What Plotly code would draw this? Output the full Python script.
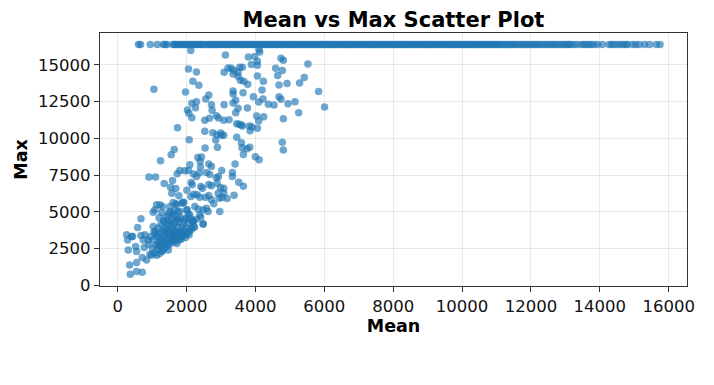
import plotly.graph_objects as go

TITLE = "Mean vs Max Scatter Plot"
X_LABEL = "Mean"
Y_LABEL = "Max"
CAP_VALUE = 16383

capped_mean = [607,665,945,1148,1322,1380,1438,1610,1640,1690,1745,1790,1850,1885,1940,1995,2030,2090,2135,2170,2225,2280,2310,2375,2420,2465,2510,2597,2640,2690,2725,2790,2830,2885,2930,2985,3020,3080,3125,3170,3235,3270,3325,3380,3420,3475,3520,3580,3615,3660,3725,3770,3810,3875,3920,3960,4025,4060,4120,4175,4210,4270,4315,4360,4425,4470,4510,4570,4620,4655,4720,4765,4810,4860,4925,4960,5020,5060,5115,5170,5210,5275,5320,5360,5420,5480,5515,5580,5625,5670,5730,5775,5815,5880,5920,5975,6030,6070,6130,6175,6220,6280,6320,6370,6430,6470,6520,6580,6625,6660,6730,6770,6825,6880,6920,6985,7030,7075,7130,7170,7225,7280,7320,7385,7430,7470,7525,7570,7630,7680,7720,7790,7830,7870,7935,7980,8025,8085,8125,8180,8240,8285,8330,8380,8430,8490,8535,8580,8640,8680,8730,8790,8830,8885,8930,8975,9040,9085,9125,9180,9230,9290,9335,9380,9430,9480,9530,9590,9630,9685,9735,9775,9830,9890,9930,9975,10040,10080,10130,10185,10225,10285,10330,10380,10430,10490,10530,10585,10640,10680,10735,10790,10835,10880,10930,10995,11040,11090,11150,11215,11260,11330,11385,11440,11510,11560,11635,11700,11750,11830,11880,11950,12010,12080,12135,12210,12260,12340,12400,12470,12530,12610,12660,12730,12790,12870,12930,12990,13060,13110,13158,13255,13340,13460,13530,13600,13680,13740,13830,13930,14075,14270,14340,14415,14510,14590,14670,14750,14800,14945,15040,15140,15300,15447,15640,15748]

mean_values = [2124,3129,3795,3979,4124,4104,4056,4056,3882,4742,4810,5524,2056,2288,3090,3206,3293,3370,3351,3496,3544,3621,3496,3563,3660,3776,4056,4230,4587,4780,4645,4684,4916,5283,5418,2182,2356,1052,1969,2646,2559,2153,2288,2259,2027,2066,2153,2723,2742,2868,2926,2530,2665,3080,3235,3090,3351,3351,3641,3428,3351,3496,3428,3766,3940,4095,4220,4191,4375,4539,4684,4742,4945,5148,5254,5833,6007,4037,4095,4240,4810,3457,3525,3592,3621,3824,3901,3843,4056,2530,2762,2877,2993,3022,3080,3457,3592,3611,3756,3834,3650,2849,2076,2897,2539,4780,4810,1738,1641,1554,1245,2327,2433,3998,4104,
2095,2394,2646,2723,3409,2404,1805,1728,1950,2056,2201,2288,2375,2578,2675,2868,3022,2926,3331,3331,3515,3650,907,1100,1351,1593,1535,1689,1573,1776,2134,2163,2414,2462,2646,2723,2887,2008,2124,2211,2307,2385,2549,2646,2723,2790,2984,3080,2916,3080,2945,3032,3177,3380,1863,1921,1612,1689,2240,2337,2481,2578,2626,2385,2964,2018,1805,2047,1979,2288,2414,2481,2192,2124,2211,2076,1902,1130,1225,1081,1032,1303,676,579,1033,260,289,405,434,308,521,347,550,366,550,714,714,840,888,676,791,743,772,936,550,
1010,1040,1060,1090,1110,1130,1150,1165,1180,1195,1210,1225,1240,1255,1270,1285,1300,1315,1330,1345,1360,1375,1390,1405,1420,1435,1450,1465,1480,1495,1510,1525,1540,1555,1570,1585,1600,1615,1630,1645,1660,1675,1690,1705,1720,1735,1750,1770,1790,1810,1830,1850,1870,1890,1910,1930,1950,1970,1990,2010,2040,2070,2100,2140,2180,2230,
1120,1180,1240,1300,1350,1400,1430,1470,1510,1550,1590,1640,1680,1720,1760,1800,1860,1200,1280,1350,1450,1500,1590,1650,1750,
900,950,980,1050,1516,1709,1902,1999,2095,2192,2482]

max_values = [15974,15679,15542,15565,15883,16042,15247,14974,15020,15451,15315,15065,14724,14520,14497,14793,14770,14634,14384,14497,14838,14838,14225,13952,13884,13679,14247,13884,14770,14611,14270,13634,13725,13770,14134,13884,13611,13338,13157,12952,12680,12385,12498,12089,11930,11703,11407,12293,11907,11544,11385,11226,11362,11226,11271,12293,13225,13020,13111,12589,12407,12043,11748,12066,12839,12475,12680,13293,12316,12271,12839,12657,12362,12498,11748,13180,12134,11521,11180,11475,11339,10998,10953,10908,10839,10839,10771,10521,10680,10476,10385,10249,10363,10203,10203,10067,9703,9363,9295,9386,8908,9885,9908,9386,9340,9726,9204,10726,9249,8886,8476,8704,8727,8749,8545,
8201,8428,8247,8088,8247,8042,7815,7588,7792,7815,7565,7406,7633,7679,7542,7315,7815,7406,7679,7406,7020,6747,7361,7361,6929,7133,6679,6588,6270,6088,6997,6838,6724,6611,6861,6770,6952,6474,6043,6202,6156,5997,5997,6111,5815,5543,6633,6611,6270,6270,5929,5975,5906,6134,5588,5634,5634,5543,5361,5179,5134,5247,5020,4793,5020,5134,5020,4861,4566,4498,4634,4180,4407,3884,4000,3430,3362,5475,5475,5133,4975,5361,4520,3930,3998,3430,3089,3316,3316,2407,2634,1385,1544,749,930,885,1885,1726,3089,3384,3430,3089,2566,2112,2294,
2500,3100,2200,3700,2750,2050,3300,2450,3900,2900,2150,3500,2650,4150,3050,2300,3700,2800,4400,3250,2500,3900,3000,4650,3450,2650,4100,3150,4850,3650,2800,4300,3350,2950,3850,4550,3100,4050,3500,4750,3250,4250,3700,3050,4500,3450,3950,3300,4300,3600,4600,3150,3950,3400,4200,3700,4450,3250,3900,3500,4250,3650,4550,3800,4300,3950,
3450,2700,3150,2350,3550,2850,3800,2400,3550,4100,3350,2950,3600,2850,4550,3100,3650,4600,4950,4300,4450,5000,4900,5100,5000,
2800,3300,2050,3600,5360,5474,5656,5133,4793,4338,4156]

marker = dict(size=7.5, color="#1f77b4", opacity=0.65, line=dict(width=0))

fig = go.Figure()
fig.add_trace(go.Scatter(
    x=capped_mean, y=[CAP_VALUE] * len(capped_mean), mode="markers",
    marker=marker, showlegend=False))
fig.add_trace(go.Scatter(
    x=mean_values, y=max_values, mode="markers",
    marker=marker, showlegend=False))

axis = dict(
    showline=True, mirror=True, linecolor="#333333", linewidth=1.3,
    ticks="outside", ticklen=5, tickwidth=1.2, tickcolor="#333333",
    showgrid=True, gridcolor="rgba(128,128,128,0.17)", gridwidth=1.2,
    zeroline=False, tickformat="d",
    tickfont=dict(family="DejaVu Sans", size=16.5, color="#111111"),
)
fig.update_layout(
    width=706, height=377, autosize=False,
    paper_bgcolor="white", plot_bgcolor="white",
    margin=dict(l=92, r=27, t=25, b=99),
    title=dict(text=f"<b>{TITLE}</b>", x=0.5, xref="paper", y=0.97, yanchor="middle",
               font=dict(family="DejaVu Sans", size=21, color="black")),
    xaxis=dict(axis, range=[-513, 16530], tickvals=list(range(0, 16001, 2000)),
               title=dict(text=f"<b>{X_LABEL}</b>", standoff=3,
                          font=dict(family="DejaVu Sans", size=17.5, color="black"))),
    yaxis=dict(axis, range=[-50, 17170], tickvals=list(range(0, 15001, 2500)),
               title=dict(text=f"<b>{Y_LABEL}</b>", standoff=5,
                          font=dict(family="DejaVu Sans", size=17.5, color="black"))),
)
assert len(mean_values) == len(max_values)
fig.write_html("out.html", config=dict(displayModeBar=False))
